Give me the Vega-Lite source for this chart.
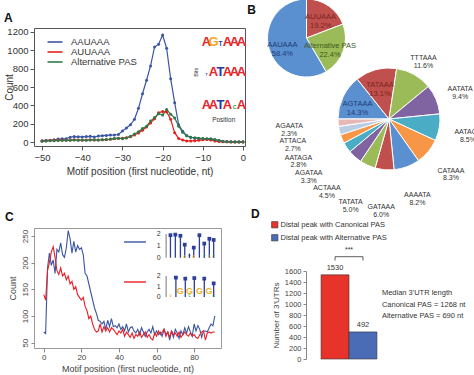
{
"$schema": "https://vega.github.io/schema/vega-lite/v6.json",
"background": "white",
"padding": {"left": 3, "top": -3, "right": 0, "bottom": 0},
"spacing": 0,
"resolve": {"scale": {"color": "independent", "fill": "independent", "size": "independent", "theta": "independent", "radius": "independent", "x": "independent", "y": "independent"}, "legend": {"color": "independent", "fill": "independent", "size": "independent"}},
"config": {
  "font": "Liberation Sans",
  "view": {"stroke": null},
  "axis": {"grid": false, "labelOverlap": false, "tickCount": 12, "labelFont": "Liberation Sans", "titleFont": "Liberation Sans", "labelColor": "#333", "titleColor": "#333", "titleFontWeight": "normal", "tickColor": "#555", "domainColor": "#666", "format": "d"},
  "title": {"fontSize": 12, "fontWeight": "bold", "anchor": "start", "font": "Liberation Sans", "color": "#111"},
  "legend": {"labelFont": "Liberation Sans", "labelColor": "#333", "padding": 0}
},
"datasets": {
  "pasA": [
    {"p":-50,"AAUAAA":18,"AUUAAA":15,"Alternative PAS":12},
    {"p":-49,"AAUAAA":20,"AUUAAA":18,"Alternative PAS":15},
    {"p":-48,"AAUAAA":22,"AUUAAA":20,"Alternative PAS":18},
    {"p":-47,"AAUAAA":28,"AUUAAA":22,"Alternative PAS":18},
    {"p":-46,"AAUAAA":35,"AUUAAA":22,"Alternative PAS":20},
    {"p":-45,"AAUAAA":38,"AUUAAA":25,"Alternative PAS":20},
    {"p":-44,"AAUAAA":40,"AUUAAA":22,"Alternative PAS":22},
    {"p":-43,"AAUAAA":55,"AUUAAA":25,"Alternative PAS":22},
    {"p":-42,"AAUAAA":62,"AUUAAA":28,"Alternative PAS":25},
    {"p":-41,"AAUAAA":60,"AUUAAA":25,"Alternative PAS":22},
    {"p":-40,"AAUAAA":58,"AUUAAA":22,"Alternative PAS":25},
    {"p":-39,"AAUAAA":62,"AUUAAA":25,"Alternative PAS":22},
    {"p":-38,"AAUAAA":65,"AUUAAA":28,"Alternative PAS":25},
    {"p":-37,"AAUAAA":58,"AUUAAA":25,"Alternative PAS":28},
    {"p":-36,"AAUAAA":68,"AUUAAA":25,"Alternative PAS":25},
    {"p":-35,"AAUAAA":72,"AUUAAA":28,"Alternative PAS":28},
    {"p":-34,"AAUAAA":75,"AUUAAA":30,"Alternative PAS":30},
    {"p":-33,"AAUAAA":78,"AUUAAA":32,"Alternative PAS":35},
    {"p":-32,"AAUAAA":80,"AUUAAA":40,"Alternative PAS":42},
    {"p":-31,"AAUAAA":85,"AUUAAA":42,"Alternative PAS":45},
    {"p":-30,"AAUAAA":123,"AUUAAA":45,"Alternative PAS":40},
    {"p":-29,"AAUAAA":155,"AUUAAA":50,"Alternative PAS":48},
    {"p":-28,"AAUAAA":190,"AUUAAA":60,"Alternative PAS":65},
    {"p":-27,"AAUAAA":250,"AUUAAA":80,"Alternative PAS":90},
    {"p":-26,"AAUAAA":369,"AUUAAA":100,"Alternative PAS":115},
    {"p":-25,"AAUAAA":527,"AUUAAA":130,"Alternative PAS":150},
    {"p":-24,"AAUAAA":673,"AUUAAA":165,"Alternative PAS":175},
    {"p":-23,"AAUAAA":828,"AUUAAA":210,"Alternative PAS":230},
    {"p":-22,"AAUAAA":1034,"AUUAAA":255,"Alternative PAS":270},
    {"p":-21,"AAUAAA":1064,"AUUAAA":320,"Alternative PAS":310},
    {"p":-20,"AAUAAA":1164,"AUUAAA":335,"Alternative PAS":295},
    {"p":-19,"AAUAAA":1020,"AUUAAA":330,"Alternative PAS":355},
    {"p":-18,"AAUAAA":690,"AUUAAA":250,"Alternative PAS":305},
    {"p":-17,"AAUAAA":430,"AUUAAA":105,"Alternative PAS":265},
    {"p":-16,"AAUAAA":190,"AUUAAA":42,"Alternative PAS":175},
    {"p":-15,"AAUAAA":120,"AUUAAA":25,"Alternative PAS":110},
    {"p":-14,"AAUAAA":70,"AUUAAA":15,"Alternative PAS":70},
    {"p":-13,"AAUAAA":55,"AUUAAA":15,"Alternative PAS":55},
    {"p":-12,"AAUAAA":45,"AUUAAA":18,"Alternative PAS":50},
    {"p":-11,"AAUAAA":40,"AUUAAA":22,"Alternative PAS":45},
    {"p":-10,"AAUAAA":38,"AUUAAA":28,"Alternative PAS":42},
    {"p":-9,"AAUAAA":35,"AUUAAA":30,"Alternative PAS":40},
    {"p":-8,"AAUAAA":32,"AUUAAA":25,"Alternative PAS":40},
    {"p":-7,"AAUAAA":28,"AUUAAA":15,"Alternative PAS":30},
    {"p":-6,"AAUAAA":20,"AUUAAA":8,"Alternative PAS":20},
    {"p":-5,"AAUAAA":12,"AUUAAA":5,"Alternative PAS":10},
    {"p":-4,"AAUAAA":8,"AUUAAA":5,"Alternative PAS":5},
    {"p":-3,"AAUAAA":5,"AUUAAA":3,"Alternative PAS":5},
    {"p":-2,"AAUAAA":5,"AUUAAA":3,"Alternative PAS":3},
    {"p":-1,"AAUAAA":5,"AUUAAA":3,"Alternative PAS":3},
    {"p":0,"AAUAAA":5,"AUUAAA":3,"Alternative PAS":3}
  ],
  "logoA": [
    {"x":-9.08,"y":1045,"letter":"A","bits":2},
    {"x":-7.34,"y":1045,"letter":"G","bits":2},
    {"x":-5.6,"y":1045,"letter":"T","bits":1},
    {"x":-3.85,"y":1045,"letter":"A","bits":2},
    {"x":-2.11,"y":1045,"letter":"A","bits":2},
    {"x":-0.37,"y":1045,"letter":"A","bits":2},
    {"x":-9.08,"y":720,"letter":"T","bits":0.5},
    {"x":-7.34,"y":720,"letter":"A","bits":2},
    {"x":-5.6,"y":720,"letter":"T","bits":2},
    {"x":-3.85,"y":720,"letter":"A","bits":2},
    {"x":-2.11,"y":720,"letter":"A","bits":2},
    {"x":-0.37,"y":720,"letter":"A","bits":2},
    {"x":-9.08,"y":361,"letter":"A","bits":2},
    {"x":-7.34,"y":361,"letter":"A","bits":2},
    {"x":-5.6,"y":361,"letter":"T","bits":2},
    {"x":-3.85,"y":361,"letter":"A","bits":2},
    {"x":-2.11,"y":361,"letter":"C","bits":0.8},
    {"x":-0.37,"y":361,"letter":"A","bits":2}
  ],
  "motifC": [
    {"x":0,"U-rich":70,"GU-rich":140},{"x":1,"U-rich":67,"GU-rich":130},{"x":2,"U-rich":190,"GU-rich":185},{"x":3,"U-rich":218,"GU-rich":200},
    {"x":4,"U-rich":195,"GU-rich":220},{"x":5,"U-rich":205,"GU-rich":230},{"x":6,"U-rich":180,"GU-rich":210},{"x":7,"U-rich":225,"GU-rich":185},
    {"x":8,"U-rich":220,"GU-rich":178},{"x":9,"U-rich":237,"GU-rich":190},{"x":10,"U-rich":215,"GU-rich":175},{"x":11,"U-rich":210,"GU-rich":180},
    {"x":12,"U-rich":228,"GU-rich":168},{"x":13,"U-rich":260,"GU-rich":175},{"x":14,"U-rich":245,"GU-rich":160},{"x":15,"U-rich":218,"GU-rich":165},
    {"x":16,"U-rich":240,"GU-rich":150},{"x":17,"U-rich":220,"GU-rich":155},{"x":18,"U-rich":232,"GU-rich":140},{"x":19,"U-rich":225,"GU-rich":135},
    {"x":20,"U-rich":228,"GU-rich":130},{"x":21,"U-rich":215,"GU-rich":135},{"x":22,"U-rich":180,"GU-rich":118},{"x":23,"U-rich":175,"GU-rich":110},
    {"x":24,"U-rich":160,"GU-rich":95},{"x":25,"U-rich":145,"GU-rich":100},{"x":26,"U-rich":130,"GU-rich":85},{"x":27,"U-rich":115,"GU-rich":75},
    {"x":28,"U-rich":105,"GU-rich":70},{"x":29,"U-rich":92,"GU-rich":72},{"x":30,"U-rich":90,"GU-rich":85},{"x":31,"U-rich":85,"GU-rich":70},
    {"x":32,"U-rich":90,"GU-rich":80},{"x":33,"U-rich":75,"GU-rich":72},{"x":34,"U-rich":92,"GU-rich":78},{"x":35,"U-rich":80,"GU-rich":70},
    {"x":36,"U-rich":95,"GU-rich":78},{"x":37,"U-rich":80,"GU-rich":75},{"x":38,"U-rich":82,"GU-rich":70},{"x":39,"U-rich":78,"GU-rich":65},
    {"x":40,"U-rich":85,"GU-rich":72},{"x":41,"U-rich":75,"GU-rich":68},{"x":42,"U-rich":80,"GU-rich":75},{"x":43,"U-rich":72,"GU-rich":62},
    {"x":44,"U-rich":85,"GU-rich":70},{"x":45,"U-rich":70,"GU-rich":65},{"x":46,"U-rich":78,"GU-rich":60},{"x":47,"U-rich":80,"GU-rich":68},
    {"x":48,"U-rich":72,"GU-rich":58},{"x":49,"U-rich":68,"GU-rich":65},{"x":50,"U-rich":75,"GU-rich":62},{"x":51,"U-rich":65,"GU-rich":70},
    {"x":52,"U-rich":78,"GU-rich":60},{"x":53,"U-rich":70,"GU-rich":65},{"x":54,"U-rich":62,"GU-rich":70},{"x":55,"U-rich":70,"GU-rich":60},
    {"x":56,"U-rich":75,"GU-rich":65},{"x":57,"U-rich":68,"GU-rich":58},{"x":58,"U-rich":80,"GU-rich":55},{"x":59,"U-rich":65,"GU-rich":68},
    {"x":60,"U-rich":72,"GU-rich":62},{"x":61,"U-rich":65,"GU-rich":72},{"x":62,"U-rich":70,"GU-rich":65},{"x":63,"U-rich":62,"GU-rich":70},
    {"x":64,"U-rich":75,"GU-rich":75},{"x":65,"U-rich":65,"GU-rich":62},{"x":66,"U-rich":70,"GU-rich":70},{"x":67,"U-rich":55,"GU-rich":60},
    {"x":68,"U-rich":72,"GU-rich":72},{"x":69,"U-rich":60,"GU-rich":65},{"x":70,"U-rich":75,"GU-rich":68},{"x":71,"U-rich":68,"GU-rich":62},
    {"x":72,"U-rich":58,"GU-rich":70},{"x":73,"U-rich":72,"GU-rich":60},{"x":74,"U-rich":65,"GU-rich":65},{"x":75,"U-rich":78,"GU-rich":70},
    {"x":76,"U-rich":68,"GU-rich":65},{"x":77,"U-rich":80,"GU-rich":62},{"x":78,"U-rich":70,"GU-rich":68},{"x":79,"U-rich":62,"GU-rich":62},
    {"x":80,"U-rich":85,"GU-rich":65},{"x":81,"U-rich":72,"GU-rich":60},{"x":82,"U-rich":82,"GU-rich":58},{"x":83,"U-rich":75,"GU-rich":65},
    {"x":84,"U-rich":60,"GU-rich":70},{"x":85,"U-rich":72,"GU-rich":72},{"x":86,"U-rich":72,"GU-rich":55},{"x":87,"U-rich":70,"GU-rich":68},
    {"x":88,"U-rich":78,"GU-rich":70},{"x":89,"U-rich":85,"GU-rich":68},{"x":90,"U-rich":82,"GU-rich":70},{"x":91,"U-rich":100,"GU-rich":70}
  ],
  "stemC": [
    {"x":67.4,"b0":209.3,"b1":251.5,"bits":1.9},
    {"x":70.0,"b0":209.3,"b1":252.6,"bits":1.95},
    {"x":72.7,"b0":209.3,"b1":250.4,"bits":1.85},
    {"x":75.0,"b0":209.3,"b1":233.7,"bits":1.1},
    {"x":77.5,"b0":209.3,"b1":217.1,"bits":0.35},
    {"x":79.8,"b0":209.3,"b1":228.2,"bits":0.85},
    {"x":82.8,"b0":209.3,"b1":251.5,"bits":1.9},
    {"x":85.4,"b0":209.3,"b1":235.9,"bits":1.2},
    {"x":88.1,"b0":209.3,"b1":244.8,"bits":1.6},
    {"x":90.4,"b0":209.3,"b1":242.6,"bits":1.5},
    {"x":70.3,"b0":135.6,"b1":172.0,"bits":1.85},
    {"x":75.3,"b0":135.6,"b1":170.1,"bits":1.75},
    {"x":80.1,"b0":135.6,"b1":171.1,"bits":1.8},
    {"x":85.4,"b0":135.6,"b1":170.1,"bits":1.75},
    {"x":90.4,"b0":135.6,"b1":161.2,"bits":1.3}
  ],
  "lettersC": [
    {"x":75.0,"y":209.3,"letter":"G","bits":0.45},
    {"x":77.5,"y":209.3,"letter":"T","bits":0.4},
    {"x":79.8,"y":209.3,"letter":"G","bits":0.4},
    {"x":85.4,"y":209.3,"letter":"C","bits":0.35},
    {"x":88.1,"y":209.3,"letter":"G","bits":0.35},
    {"x":90.4,"y":209.3,"letter":"C","bits":0.35},
    {"x":67.4,"y":135.6,"letter":"G","bits":0.3},
    {"x":72.6,"y":141.5,"letter":"G","bits":1.0},
    {"x":77.5,"y":141.5,"letter":"G","bits":1.0},
    {"x":77.5,"y":135.6,"letter":"C","bits":0.35},
    {"x":82.8,"y":141.5,"letter":"G","bits":1.0},
    {"x":87.9,"y":141.5,"letter":"G","bits":1.0},
    {"x":90.4,"y":135.6,"letter":"C","bits":0.35}
  ],
  "axisC": [
    {"b0":209.3,"b1":253.7},
    {"b0":135.6,"b1":175.0}
  ],
  "axisLabC": [
    {"v":"2","y":253.7},{"v":"1","y":231.5},{"v":"0","y":209.3},
    {"v":"2","y":175.0},{"v":"1","y":155.3},{"v":"0","y":135.6}
  ],
  "pie1": [
    {"motif":"AUUAAA","pct":19.2,"k":1},
    {"motif":"Alternative PAS","pct":22.4,"k":2},
    {"motif":"AAUAAA","pct":58.4,"k":3}
  ],
  "pie2": [
    {"motif":"AGTAAA","pct":14.3,"k":1},
    {"motif":"TATAAA","pct":13.1,"k":2},
    {"motif":"TTTAAA","pct":11.6,"k":3},
    {"motif":"AATATA","pct":9.4,"k":4},
    {"motif":"AATACA","pct":8.5,"k":5},
    {"motif":"CATAAA","pct":8.3,"k":6},
    {"motif":"AAAATA","pct":8.2,"k":7},
    {"motif":"GATAAA","pct":6.0,"k":8},
    {"motif":"TATATA","pct":5.0,"k":9},
    {"motif":"ACTAAA","pct":4.5,"k":10},
    {"motif":"AGATAA","pct":3.3,"k":11},
    {"motif":"AATAGA","pct":2.8,"k":12},
    {"motif":"ATTACA","pct":2.7,"k":13},
    {"motif":"AGAATA","pct":2.3,"k":14}
  ],
  "utr": [
    {"peak":"Distal peak with Canonical PAS","n":1530},
    {"peak":"Distal peak with Alternative PAS","n":492}
  ]
},
"hconcat": [
  {
    "resolve": {"scale": {"color": "independent", "fill": "independent", "size": "independent", "x": "independent", "y": "independent"}, "legend": {"color": "independent", "fill": "independent", "size": "independent"}},
    "spacing": 82,
    "bounds": "flush",
    "vconcat": [
      {
        "width": 211, "height": 118,
        "title": {"text": "A", "dx": -30, "offset": 2, "frame": "group"},
        "view": {"stroke": "#555", "strokeWidth": 1},
        "layer": [
          {
            "data": {"name": "pasA"},
            "transform": [{"fold": ["AAUAAA", "AUUAAA", "Alternative PAS"], "as": ["motif", "count"]}],
            "mark": {"type": "line", "strokeWidth": 1.2, "point": {"filled": true, "size": 9}},
            "encoding": {
              "x": {"field": "p", "type": "quantitative", "scale": {"domain": [-52, 0.5], "nice": false, "zero": false},
                    "axis": {"values": [-50, -40, -30, -20, -10, 0], "title": "Motif position (first nucleotide, nt)", "labelFontSize": 9.5, "titleFontSize": 10, "tickSize": 4, "domain": false, "labelPadding": 2, "titlePadding": 5}},
              "y": {"field": "count", "type": "quantitative", "scale": {"domain": [-40, 1240], "nice": false, "zero": false},
                    "axis": {"values": [0, 200, 400, 600, 800, 1000, 1200], "labelFlush": false, "title": "Count", "labelFontSize": 9.5, "titleFontSize": 10, "tickSize": 4, "domain": false, "labelPadding": 2, "titlePadding": -8}},
              "color": {"field": "motif", "type": "nominal", "sort": null,
                        "scale": {"domain": ["AAUAAA", "AUUAAA", "Alternative PAS"], "range": ["#3b55a3", "#e4221b", "#2f7a4a"]},
                        "legend": {"title": null, "orient": "none", "legendX": 16, "legendY": 9, "symbolType": "M-2,0H2", "symbolSize": 56, "symbolStrokeWidth": 1.6, "labelFontSize": 9.5, "rowPadding": 0, "labelOffset": 11}}
            }
          },
          {
            "data": {"name": "logoA"},
            "mark": {"type": "text", "fontWeight": "bold", "baseline": "alphabetic", "align": "center"},
            "encoding": {
              "x": {"field": "x", "type": "quantitative"},
              "y": {"field": "y", "type": "quantitative"},
              "text": {"field": "letter"},
              "size": {"field": "bits", "type": "quantitative", "scale": {"domain": [0, 2], "range": [0, 13]}, "legend": null},
              "fill": {"field": "letter", "type": "nominal", "scale": {"domain": ["A", "C", "G", "T"], "range": ["#e8262b", "#1c9a48", "#f4a81c", "#26399c"]}, "legend": null}
            }
          },
          {
            "data": {"values": [{"t": "Position"}]},
            "mark": {"type": "text", "fontSize": 6.5, "color": "#333"},
            "encoding": {
              "x": {"datum": -4.8, "type": "quantitative"},
              "y": {"datum": 240, "type": "quantitative"},
              "text": {"field": "t"}
            }
          },
          {
            "data": {"values": [{"t": "Bits"}]},
            "mark": {"type": "text", "fontSize": 5.5, "color": "#333", "angle": 270},
            "encoding": {
              "x": {"datum": -11.8, "type": "quantitative"},
              "y": {"datum": 760, "type": "quantitative"},
              "text": {"field": "t"}
            }
          }
        ]
      },
      {
        "width": 187, "height": 120,
        "title": {"text": "C", "dx": -29, "offset": 4, "frame": "group"},
        "view": {"stroke": "#999", "strokeWidth": 1},
        "layer": [
          {
            "data": {"name": "motifC"},
            "transform": [{"fold": ["U-rich", "GU-rich"], "as": ["motif", "count"]}],
            "mark": {"type": "line", "strokeWidth": 1.1},
            "encoding": {
              "x": {"field": "x", "type": "quantitative", "scale": {"domain": [-5.2, 94.3], "nice": false, "zero": false},
                    "axis": {"values": [0, 20, 40, 60, 80], "title": "Motif position (first nucleotide, nt)", "labelFontSize": 8, "titleFontSize": 9, "tickSize": 4, "domain": false, "labelPadding": 1, "titlePadding": 3, "labelColor": "#444", "titleColor": "#444", "tickColor": "#888"}},
              "y": {"field": "count", "type": "quantitative", "scale": {"domain": [40, 265], "nice": false, "zero": false},
                    "axis": {"values": [50, 100, 150, 200, 250], "labelFlush": false, "title": "Count", "labelAngle": -90, "labelAlign": "center", "labelBaseline": "bottom", "labelFontSize": 8, "titleFontSize": 9, "tickSize": 3, "domain": false, "labelPadding": 2, "titlePadding": 4, "labelColor": "#444", "titleColor": "#444", "tickColor": "#888"}},
              "color": {"field": "motif", "type": "nominal", "sort": null,
                        "scale": {"domain": ["U-rich", "GU-rich"], "range": ["#3a55a4", "#ec1d25"]},
                        "legend": {"title": null, "orient": "none", "legendX": 89, "legendY": 2, "symbolType": "stroke", "symbolSize": 480, "symbolStrokeWidth": 1.4, "labelExpr": "''", "rowPadding": 25, "labelFontSize": 1}}
            }
          },
          {
            "data": {"name": "axisC"},
            "mark": {"type": "rule", "color": "#555", "strokeWidth": 0.8},
            "encoding": {
              "x": {"datum": 65.1, "type": "quantitative"},
              "y": {"field": "b0", "type": "quantitative"},
              "y2": {"field": "b1"}
            }
          },
          {
            "data": {"name": "axisLabC"},
            "mark": {"type": "text", "fontSize": 7, "color": "#333", "align": "center", "baseline": "middle"},
            "encoding": {
              "x": {"datum": 61.2, "type": "quantitative"},
              "y": {"field": "y", "type": "quantitative"},
              "text": {"field": "v"}
            }
          },
          {
            "data": {"name": "stemC"},
            "mark": {"type": "rule", "color": "#2b3f9b", "strokeWidth": 1.3},
            "encoding": {
              "x": {"field": "x", "type": "quantitative"},
              "y": {"field": "b0", "type": "quantitative"},
              "y2": {"field": "b1"}
            }
          },
          {
            "data": {"name": "stemC"},
            "transform": [{"filter": "datum.bits >= 0.8"}],
            "mark": {"type": "point", "shape": "square", "filled": true, "color": "#2b3f9b", "size": 14, "opacity": 1},
            "encoding": {
              "x": {"field": "x", "type": "quantitative"},
              "y": {"field": "b1", "type": "quantitative"}
            }
          },
          {
            "data": {"name": "lettersC"},
            "mark": {"type": "text", "fontWeight": "bold", "baseline": "alphabetic", "align": "center"},
            "encoding": {
              "x": {"field": "x", "type": "quantitative"},
              "y": {"field": "y", "type": "quantitative"},
              "text": {"field": "letter"},
              "size": {"field": "bits", "type": "quantitative", "scale": {"domain": [0, 2], "range": [0, 18]}, "legend": null},
              "fill": {"field": "letter", "type": "nominal", "scale": {"domain": ["A", "C", "G", "T"], "range": ["#e8262b", "#1c9a48", "#eab21e", "#26399c"]}, "legend": null}
            }
          }
        ]
      }
    ]
  },
  {
    "resolve": {"scale": {"color": "independent", "fill": "independent", "theta": "independent", "radius": "independent", "x": "independent", "y": "independent"}, "legend": {"color": "independent", "fill": "independent"}},
    "spacing": -10,
    "vconcat": [
      {
        "resolve": {"scale": {"color": "independent", "fill": "independent", "theta": "independent", "radius": "independent"}, "legend": {"color": "independent", "fill": "independent"}},
        "spacing": 0,
        "bounds": "flush",
        "vconcat": [
          {
            "width": 1, "height": 20,
            "title": {"text": "B", "orient": "left", "angle": 0, "anchor": "end", "frame": "bounds", "offset": 1, "dy": 8},
            "data": {"name": "pie1"},
            "transform": [{"calculate": "datum.motif + '\\n' + format(datum.pct, '.1f') + '%'", "as": "label"}],
            "encoding": {
              "theta": {"field": "pct", "type": "quantitative", "stack": true},
              "order": {"field": "k", "type": "quantitative"}
            },
            "layer": [
              {
                "mark": {"type": "arc", "outerRadius": 39, "stroke": "white", "strokeWidth": 1},
                "encoding": {
                  "color": {"field": "motif", "type": "nominal", "scale": {"domain": ["AUUAAA", "Alternative PAS", "AAUAAA"], "range": ["#c0504d", "#9bbb59", "#5a8fd0"]}, "legend": null}
                }
              },
              {
                "mark": {"type": "text", "radius": 25, "fontSize": 7.5, "lineBreak": "\n", "lineHeight": 9},
                "encoding": {
                  "text": {"field": "label"},
                  "fill": {"field": "motif", "type": "nominal", "scale": {"domain": ["AUUAAA", "Alternative PAS", "AAUAAA"], "range": ["#7a2422", "#3d5a1a", "#1e3c78"]}, "legend": null}
                }
              }
            ]
          },
          {
            "width": 166, "height": 142,
            "data": {"name": "pie2"},
            "transform": [{"calculate": "datum.motif + '\\n' + format(datum.pct, '.1f') + '%'", "as": "label"}],
            "encoding": {
              "theta": {"field": "pct", "type": "quantitative", "stack": true, "scale": {"range": [4.71239, 10.99557]}},
              "order": {"field": "k", "type": "quantitative"}
            },
            "layer": [
              {
                "mark": {"type": "arc", "outerRadius": 51, "stroke": "white", "strokeWidth": 1},
                "encoding": {
                  "color": {"field": "motif", "type": "nominal", "sort": null,
                            "scale": {"domain": ["AGTAAA", "TATAAA", "TTTAAA", "AATATA", "AATACA", "CATAAA", "AAAATA", "GATAAA", "TATATA", "ACTAAA", "AGATAA", "AATAGA", "ATTACA", "AGAATA"],
                                      "range": ["#5a8fd0", "#c0504d", "#9bbb59", "#8064a2", "#4bacc6", "#f79646", "#5a8fd0", "#c0504d", "#9bbb59", "#8064a2", "#4bacc6", "#f79646", "#b9cde5", "#e6b9b8"]},
                            "legend": null}
                }
              },
              {
                "mark": {"type": "text", "radius": 35, "fontSize": 7.5, "lineBreak": "\n", "lineHeight": 9},
                "encoding": {
                  "text": {"condition": {"test": "datum.pct > 13", "field": "label"}, "value": ""},
                  "fill": {"field": "motif", "type": "nominal", "scale": {"domain": ["AGTAAA", "TATAAA"], "range": ["#1e3c78", "#7a2422"]}, "legend": null}
                }
              },
              {
                "mark": {"type": "text", "fontSize": 7, "lineBreak": "\n", "lineHeight": 7.8, "color": "#333"},
                "encoding": {
                  "text": {"condition": {"test": "datum.pct <= 13", "field": "label"}, "value": ""},
                  "radius": {"field": "pct", "type": "quantitative", "scale": {"type": "linear", "domain": [2.3, 11.6], "range": [100, 70], "zero": false}, "legend": null}
                }
              }
            ]
          }
        ]
      },
      {
        "width": 86, "height": 88,
        "title": {"text": "D", "dx": -55, "offset": 0, "frame": "group"},
        "data": {"name": "utr"},
        "layer": [
          {
            "mark": {"type": "bar", "stroke": "#333", "strokeWidth": 0.6},
            "encoding": {
              "x": {"field": "peak", "type": "nominal", "sort": null, "scale": {"paddingInner": 0, "paddingOuter": 0.54}, "axis": null},
              "y": {"field": "n", "type": "quantitative", "scale": {"domain": [0, 1600], "nice": false},
                    "axis": {"values": [0, 200, 400, 600, 800, 1000, 1200, 1400, 1600], "labelFlush": false, "title": "Number of 3'UTRs", "labelFontSize": 7.5, "titleFontSize": 8, "tickSize": 3, "labelPadding": 2, "titlePadding": 4, "domainColor": "#888", "tickColor": "#888", "labelColor": "#444", "titleColor": "#444"}},
              "color": {"field": "peak", "type": "nominal", "sort": null,
                        "scale": {"domain": ["Distal peak with Canonical PAS", "Distal peak with Alternative PAS"], "range": ["#e8332b", "#4a6cb6"]},
                        "legend": {"title": null, "orient": "none", "legendX": -35, "legendY": -50, "symbolType": "square", "symbolSize": 40, "symbolStrokeColor": "#333", "symbolStrokeWidth": 0.6, "labelFontSize": 7.5, "rowPadding": 3, "labelOffset": 2}}
            }
          },
          {
            "mark": {"type": "text", "fontSize": 7.5, "dy": -3, "color": "#333", "baseline": "bottom"},
            "encoding": {
              "x": {"field": "peak", "type": "nominal", "sort": null},
              "y": {"field": "n", "type": "quantitative"},
              "text": {"field": "n"}
            }
          },
          {
            "mark": {"type": "rule", "color": "#333", "strokeWidth": 0.8},
            "encoding": {
              "x": {"field": "peak", "type": "nominal", "sort": null},
              "y": {"datum": 1790, "type": "quantitative"},
              "y2": {"datum": 1860}
            }
          },
          {
            "transform": [{"filter": "datum.n > 1000"}],
            "mark": {"type": "rule", "color": "#333", "strokeWidth": 0.8},
            "encoding": {
              "x": {"datum": "Distal peak with Canonical PAS", "type": "nominal"},
              "x2": {"datum": "Distal peak with Alternative PAS"},
              "y": {"datum": 1860, "type": "quantitative"}
            }
          },
          {
            "transform": [{"filter": "datum.n > 1000"}],
            "mark": {"type": "text", "fontSize": 7, "color": "#333", "baseline": "bottom"},
            "encoding": {
              "x": {"datum": "Distal peak with Alternative PAS", "type": "nominal", "bandPosition": 0},
              "y": {"datum": 1930, "type": "quantitative"},
              "text": {"value": "***"}
            }
          },
          {
            "transform": [{"filter": "datum.n > 1000"}],
            "mark": {"type": "text", "fontSize": 7.5, "color": "#333", "align": "left", "baseline": "middle", "dx": 5, "lineBreak": "\n", "lineHeight": 11.5},
            "encoding": {
              "x": {"datum": "Distal peak with Alternative PAS", "type": "nominal", "bandPosition": 1},
              "y": {"datum": 1200, "type": "quantitative"},
              "text": {"value": "Median 3'UTR length\nCanonical PAS = 1268 nt\nAlternative PAS = 690 nt"}
            }
          }
        ]
      }
    ]
  }
]
}
